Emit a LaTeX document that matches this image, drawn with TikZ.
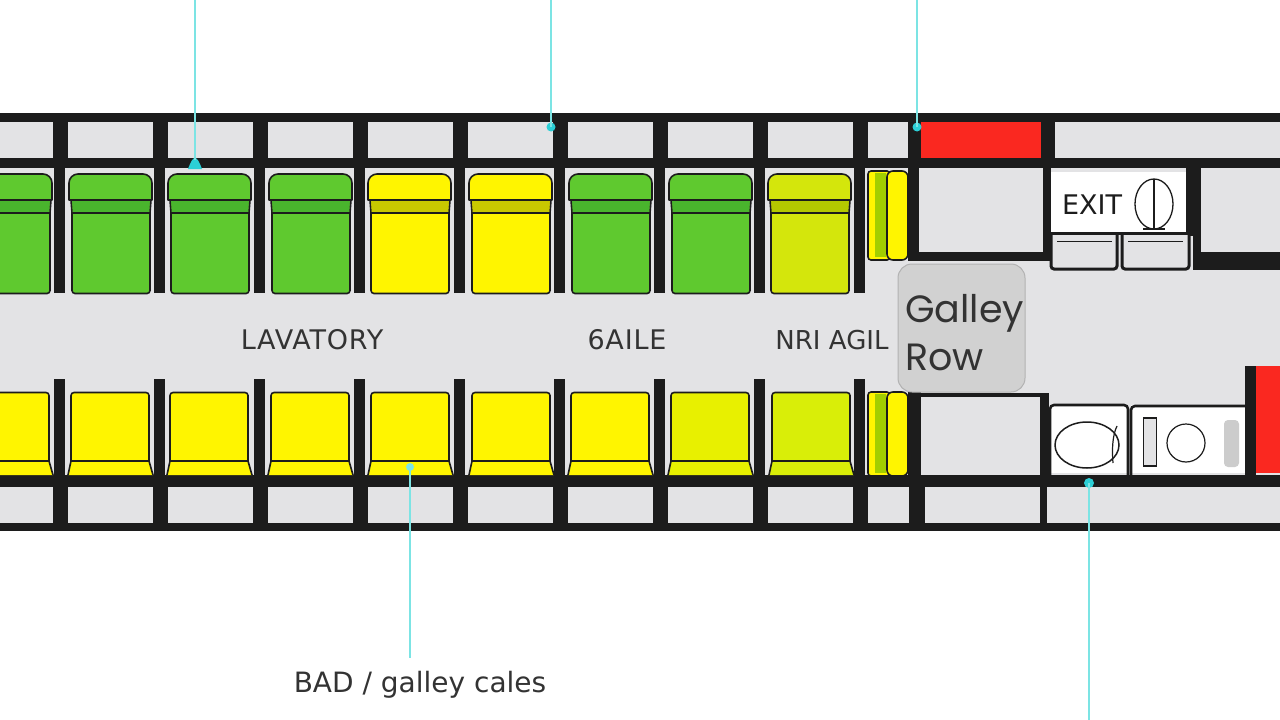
\documentclass[tikz,border=0pt]{standalone}
\usepackage{fontspec}
\setmainfont{DejaVu Sans}
\newfontfamily\galleyfont{Poppins}
\newfontfamily\spaced[LetterSpace=3]{DejaVu Sans}
\definecolor{ink}{HTML}{1C1C1C}
\definecolor{cellgray}{HTML}{E3E3E5}
\definecolor{seatgreen}{HTML}{5FC92F}
\definecolor{seatgreenD}{HTML}{49B52D}
\definecolor{seatyellow}{HTML}{FFF500}
\definecolor{seatyellowD}{HTML}{C8C800}
\definecolor{seatlime}{HTML}{D4E60C}
\definecolor{seatlimeB}{HTML}{D9EE08}
\definecolor{seatlimeD}{HTML}{B4C800}
\definecolor{seatpale}{HTML}{E8F000}
\definecolor{exitred}{HTML}{FA2820}
\definecolor{leader}{HTML}{7CE4E4}
\definecolor{leaderdot}{HTML}{2CCFD6}
\tikzset{
  x=1pt,y=-1pt,
  wall/.style={fill=ink,draw=none},
  seatline/.style={draw=ink,line width=1.6pt,line join=round},
  lead/.style={draw=leader,line width=1.4pt},
  leaddot/.style={circle,fill=leaderdot,draw=none,inner sep=0pt,minimum size=8pt},
  aisletext/.style={text=black!80,inner sep=0pt,anchor=base,font=\spaced\fontsize{27}{27}\selectfont},
  lbl/.style={text=black!80,inner sep=0pt,anchor=base,font=\fontsize{28}{28}\selectfont},
  galleytext/.style={text=black!80,inner sep=0pt,anchor=base west,font=\galleyfont\fontsize{38}{38}\selectfont}
}
\newcommand{\topseat}[3]{% left x, body, dark
  \fill[#2] (#1+3,200) rectangle (#1+81,293);
  \fill[#3] (#1+3,200) -- (#1+4,213) -- (#1+80,213) -- (#1+81,200) -- cycle;
  \draw[seatline,fill=#2] (#1,200) [rounded corners=9pt] -- (#1,174) -- (#1+83,174) [sharp corners] -- (#1+83,200) -- cycle;
  \draw[seatline] (#1+2,200) -- (#1+3,213) [rounded corners=3pt] -- (#1+3,293.5) -- (#1+81,293.5) [sharp corners] -- (#1+81,213) -- (#1+82,200);
  \draw[seatline] (#1+3,213) -- (#1+81,213);
}
\newcommand{\botseat}[2]{% left x, fill
  \fill[#2] (#1+3,475) -- (#1+6,461) -- (#1+84,461) -- (#1+88,475) -- cycle;
  \draw[seatline] (#1+3,475) -- (#1+6,461) -- (#1+84,461) -- (#1+88,475);
  \draw[seatline,fill=#2] (#1+6,461) [rounded corners=3pt] -- (#1+6,392.5) -- (#1+84,392.5) [sharp corners] -- (#1+84,461) -- cycle;
}
\begin{document}
\begin{tikzpicture}
\useasboundingbox (0,0) rectangle (1280,720);
\fill[white] (0,0) rectangle (1280,720);
% fuselage
\fill[cellgray] (0,113) rectangle (1280,531);
\fill[wall] (0,113) rectangle (1280,122);
\fill[wall] (0,158) rectangle (1280,168);
\fill[wall] (0,475) rectangle (1280,487);
\fill[wall] (0,523) rectangle (1280,531);
% dividers
\foreach \d in {53,153,253,353,453,553,653,753,853}{
  \fill[wall] (\d,122) rectangle (\d+15,160);
  \fill[wall] (\d+1,166) rectangle (\d+12,293);
  \fill[wall] (\d+1,379) rectangle (\d+12,477);
  \fill[wall] (\d,485) rectangle (\d+15,525);
}
% seats top
\topseat{-31}{seatgreen}{seatgreenD}
\topseat{69}{seatgreen}{seatgreenD}
\topseat{168}{seatgreen}{seatgreenD}
\topseat{269}{seatgreen}{seatgreenD}
\topseat{368}{seatyellow}{seatyellowD}
\topseat{469}{seatyellow}{seatyellowD}
\topseat{569}{seatgreen}{seatgreenD}
\topseat{669}{seatgreen}{seatgreenD}
\topseat{768}{seatlime}{seatlimeD}
% seats bottom
\botseat{-35}{seatyellow}
\botseat{65}{seatyellow}
\botseat{164}{seatyellow}
\botseat{265}{seatyellow}
\botseat{365}{seatyellow}
\botseat{466}{seatyellow}
\botseat{565}{seatyellow}
\botseat{665}{seatpale}
\botseat{766}{seatlimeB}
% end seats
\foreach \a/\b in {171/260,392/476}{
  \draw[seatline,fill=seatyellow,rounded corners=3pt] (868,\a) rectangle (890,\b);
  \fill[seatlimeD!90!green] (875,\a+2) rectangle (886,\b-3);
  \draw[seatline,fill=seatyellow,rounded corners=6pt] (887,\a) rectangle (908,\b);
}
% right walls and rooms, upper
\fill[wall] (908,122) rectangle (919,260);
\fill[wall] (908,122) rectangle (921,168);
\fill[exitred] (921,122) rectangle (1041,158);
\fill[wall] (1041,122) rectangle (1055,168);
\fill[wall] (908,252) rectangle (1050,261);
\fill[wall] (1043,158) rectangle (1051,261);
\fill[wall] (1186,158) rectangle (1201,236);
\fill[wall] (1193,236) rectangle (1201,270);
\fill[wall] (1193,252) rectangle (1280,270);
\node[fill=white,inner sep=0pt,minimum width=135pt,minimum height=60pt] (exitbox) at (1118.5,202) {};
\node[text=ink,inner sep=0pt,anchor=base,font=\fontsize{27}{27}\selectfont] (exit) at (1092,214) {EXIT};
\draw[ink,line width=1.3pt] (1154,204) ellipse[x radius=19,y radius=25];
\draw[ink,line width=1.3pt] (1154,179) -- (1154,230);
\draw[ink,line width=1.3pt] (1143,229) -- (1165,229);
\draw[ink,line width=3pt,fill=cellgray,rounded corners=3pt] (1051,233) -- (1051,269) -- (1117,269) -- (1117,233);
\draw[ink,line width=3pt,fill=cellgray,rounded corners=3pt] (1122,233) -- (1122,269) -- (1189,269) -- (1189,233);
\draw[ink,line width=3pt] (1050,233.5) -- (1189,233.5);
\draw[ink,line width=1.5pt] (1057,241.5) -- (1112,241.5);
\draw[ink,line width=1.5pt] (1128,241.5) -- (1183,241.5);
% right walls and rooms, lower
\fill[wall] (908,392) rectangle (921,487);
\fill[wall] (908,393) rectangle (1049,397);
\fill[wall] (1040,393) rectangle (1049,487);
\fill[wall] (909,485) rectangle (925,525);
\fill[wall] (1040,485) rectangle (1047,525);
\node[fill=white,inner sep=0pt,minimum width=77pt,minimum height=68pt] (ovenL) at (1088.5,439) {};
\node[fill=white,inner sep=0pt,minimum width=114pt,minimum height=68pt] (ovenR) at (1188,439) {};
\draw[ink,line width=2.6pt,rounded corners=4pt] (1050,475) -- (1050,405) -- (1128,405) -- (1128,475);
\draw[ink,line width=2.6pt,rounded corners=4pt] (1131,475) -- (1131,406) -- (1246,406);
\fill[wall] (1245,366) rectangle (1256,475);
\fill[exitred] (1256,366) rectangle (1280,473);
\draw[ink,line width=1.5pt] (1087,445) ellipse[x radius=32,y radius=23];
\draw[ink,line width=1.2pt] (1117,426) .. controls (1112,436) and (1112,452) .. (1113,463);
\draw[ink,line width=1.7pt,fill=cellgray] (1143.5,418) rectangle (1156.5,466);
\draw[ink,line width=1.2pt] (1186,443) circle[radius=19];
\fill[black!20,rounded corners=4pt] (1224,420) rectangle (1239,467);
% galley
\node[draw=black!30,fill=black!18,line width=1pt,rounded corners=14pt,minimum width=127pt,minimum height=128pt,inner sep=0pt] (galley) at (961.5,328) {};
\node[galleytext] (g1) at (905,322) {Galley};
\node[galleytext] (g2) at (905,370) {Row};
% aisle labels
\node[aisletext] (lav) at (312,349) {LAVATORY};
\node[aisletext] (aile) at (627,349) {6AILE};
\node[aisletext,font=\fontsize{26}{26}\selectfont] (nri) at (832,349) {NRI AGIL};
\node[lbl] (bad) at (420,692) {BAD / galley cales};
% leaders
\coordinate (t1) at (195,0);\coordinate (t2) at (551,0);\coordinate (t3) at (917,0);
\coordinate (b1) at (410,658);\coordinate (b2) at (1089,720);
\fill[leaderdot] (188,169) .. controls (191,161) and (193,158) .. (195,158) .. controls (197,158) and (199,161) .. (202,169) -- cycle;
\coordinate (d1) at (195,160);
\node[leaddot,minimum size=9pt] (d2) at (551,127) {};
\node[leaddot,minimum size=9pt] (d3) at (917,127) {};
\node[leaddot,fill=leader,minimum size=8pt] (d4) at (410,467) {};
\node[leaddot,minimum size=10pt] (d5) at (1089,483) {};
\draw[lead] (t1) -- (d1);
\draw[lead] (t2) -- (d2.center);
\draw[lead] (t3) -- (d3.center);
\draw[lead] (d4.center) -- (b1);
\draw[lead] (d5.center) -- (b2);
\end{tikzpicture}
\end{document}
